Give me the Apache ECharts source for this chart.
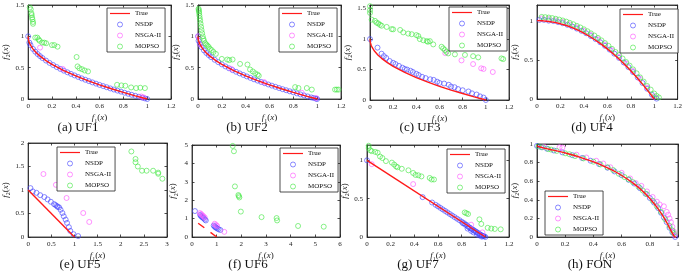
<!DOCTYPE html>
<html>
<head>
<meta charset="utf-8">
<script src="https://cdn.jsdelivr.net/npm/echarts@6/dist/echarts.min.js"></script>
<style>
  html, body { margin: 0; padding: 0; background: #fff; }
  #chart { width: 685px; height: 276px; }
</style>
</head>
<body>
<div id="chart"></div>
<script>
// Pareto fronts, [f1, f2]
var frontSqrt = [[0, 1], [0.002, 0.955], [0.005, 0.929], [0.01, 0.9], [0.02, 0.859], [0.04, 0.8], [0.07, 0.735], [0.1, 0.684], [0.15, 0.613], [0.2, 0.553], [0.3, 0.452], [0.4, 0.368], [0.5, 0.293], [0.6, 0.225], [0.7, 0.163], [0.8, 0.106], [0.9, 0.051], [1, 0]];

// UF1
var uf1Nsdp = [[0, 1], [0.01, 0.9], [0.02, 0.86], [0.04, 0.8], [0.06, 0.755], [0.08, 0.717], [0.1, 0.684], [0.12, 0.654], [0.15, 0.613], [0.18, 0.576], [0.21, 0.542], [0.24, 0.51], [0.27, 0.48], [0.3, 0.452], [0.33, 0.426], [0.36, 0.4], [0.39, 0.376], [0.42, 0.352], [0.45, 0.329], [0.48, 0.307], [0.51, 0.286], [0.54, 0.265], [0.57, 0.245], [0.6, 0.225], [0.63, 0.206], [0.66, 0.188], [0.69, 0.169], [0.72, 0.151], [0.75, 0.134], [0.78, 0.117], [0.81, 0.1], [0.84, 0.083], [0.87, 0.067], [0.9, 0.051], [0.93, 0.036], [0.96, 0.02], [0.98, 0.01], [1, 0]];
var uf1Nsga = [[0.1, 0.82], [0.29, 0.48], [0.95, 0.04], [0.97, 0.025]];
var uf1Mopso = [[0.014, 1.46], [0.022, 1.43], [0.027, 1.37], [0.03, 1.34], [0.033, 1.3], [0.036, 1.27], [0.041, 1.23], [0.041, 1.2], [0.06, 0.98], [0.077, 0.98], [0.088, 0.95], [0.096, 0.93], [0.118, 0.9], [0.135, 0.9], [0.151, 0.89], [0.2, 0.86], [0.22, 0.86], [0.247, 0.835], [0.407, 0.67], [0.415, 0.52], [0.431, 0.49], [0.453, 0.475], [0.475, 0.455], [0.503, 0.44], [0.747, 0.227], [0.783, 0.217], [0.816, 0.211], [0.865, 0.185], [0.907, 0.174], [0.942, 0.18], [0.981, 0.174]];

// UF2
var uf2Nsdp = [[0, 1], [0.005, 0.929], [0.015, 0.878], [0.03, 0.827], [0.05, 0.776], [0.07, 0.735], [0.09, 0.7], [0.11, 0.668], [0.14, 0.626], [0.17, 0.588], [0.2, 0.553], [0.23, 0.52], [0.26, 0.49], [0.29, 0.461], [0.32, 0.434], [0.35, 0.408], [0.38, 0.384], [0.41, 0.36], [0.44, 0.337], [0.47, 0.314], [0.5, 0.293], [0.53, 0.272], [0.56, 0.252], [0.59, 0.232], [0.62, 0.213], [0.65, 0.194], [0.68, 0.175], [0.71, 0.157], [0.74, 0.14], [0.77, 0.123], [0.8, 0.106], [0.83, 0.089], [0.86, 0.073], [0.89, 0.057], [0.92, 0.041], [0.95, 0.025], [0.97, 0.015], [0.99, 0.005], [1, 0]];
var uf2Nsga = [[0.003, 1.0], [0.02, 0.87], [0.28, 0.48], [0.555, 0.27], [0.87, 0.1], [0.99, 0.015]];
var uf2Mopso = [[0.005, 1.44], [0.006, 1.42], [0.008, 1.4], [0.01, 1.37], [0.012, 1.33], [0.015, 1.29], [0.018, 1.25], [0.022, 1.2], [0.026, 1.15], [0.03, 1.1], [0.035, 1.05], [0.04, 1.0], [0.045, 0.96], [0.05, 0.93], [0.06, 0.89], [0.07, 0.87], [0.08, 0.85], [0.09, 0.83], [0.1, 0.8], [0.115, 0.78], [0.13, 0.75], [0.15, 0.72], [0.2, 0.64], [0.246, 0.63], [0.263, 0.62], [0.29, 0.63], [0.353, 0.56], [0.415, 0.55], [0.437, 0.47], [0.46, 0.44], [0.48, 0.41], [0.5, 0.39], [0.51, 0.37], [0.815, 0.19], [0.843, 0.175], [0.913, 0.175], [0.955, 0.15], [1.15, 0.15], [1.165, 0.15], [1.18, 0.15]];

// UF3
var uf3Nsdp = [[0, 1.0], [0.065, 0.86], [0.1, 0.76], [0.12, 0.72], [0.14, 0.69], [0.17, 0.64], [0.2, 0.61], [0.22, 0.59], [0.25, 0.56], [0.28, 0.53], [0.3, 0.51], [0.32, 0.5], [0.35, 0.48], [0.37, 0.46], [0.4, 0.43], [0.42, 0.41], [0.45, 0.38], [0.48, 0.36], [0.52, 0.34], [0.55, 0.33], [0.58, 0.3], [0.6, 0.28], [0.64, 0.27], [0.68, 0.25], [0.7, 0.22], [0.73, 0.21], [0.76, 0.18], [0.8, 0.16], [0.85, 0.14], [0.88, 0.11], [0.92, 0.09], [0.95, 0.06], [0.98, 0.04], [1.0, 0.0]];
var uf3Nsga = [[0.65, 0.77], [0.79, 0.65], [0.89, 0.59], [0.96, 0.52], [0.98, 0.51], [1.06, 0.46]];
var uf3Mopso = [[0, 1.54], [0, 1.475], [0, 1.43], [0.014, 1.32], [0.043, 1.3], [0.057, 1.27], [0.072, 1.257], [0.086, 1.235], [0.1, 1.22], [0.144, 1.2], [0.187, 1.164], [0.2, 1.16], [0.26, 1.15], [0.287, 1.11], [0.33, 1.09], [0.36, 1.08], [0.4, 1.066], [0.417, 1.05], [0.43, 1.0], [0.46, 0.98], [0.49, 0.967], [0.5, 0.956], [0.517, 0.967], [0.546, 0.913], [0.618, 0.874], [0.632, 0.847], [0.647, 0.82], [0.66, 0.79], [0.675, 0.765], [0.733, 0.749], [0.82, 0.74], [0.89, 0.72], [0.934, 0.7], [1.135, 0.683], [1.15, 0.672]];

// UF4
var uf4True = [[0, 1], [0.05, 0.998], [0.1, 0.99], [0.15, 0.978], [0.2, 0.96], [0.25, 0.938], [0.3, 0.91], [0.35, 0.878], [0.4, 0.84], [0.45, 0.798], [0.5, 0.75], [0.55, 0.698], [0.6, 0.64], [0.65, 0.578], [0.7, 0.51], [0.75, 0.438], [0.8, 0.36], [0.85, 0.278], [0.9, 0.19], [0.95, 0.098], [1, 0]];
var uf4Nsdp = [[0.02, 1.01], [0.06, 1.01], [0.1, 1.0], [0.14, 0.995], [0.18, 0.982], [0.22, 0.967], [0.26, 0.947], [0.3, 0.925], [0.34, 0.899], [0.38, 0.87], [0.42, 0.839], [0.46, 0.803], [0.5, 0.765], [0.54, 0.724], [0.58, 0.679], [0.62, 0.631], [0.66, 0.579], [0.7, 0.525], [0.74, 0.467], [0.78, 0.407], [0.82, 0.343], [0.86, 0.275], [0.9, 0.205], [0.94, 0.131], [0.98, 0.055], [1.02, 0.005]];
var uf4Nsga = [[0.04, 1.028], [0.1, 1.02], [0.16, 1.004], [0.22, 0.982], [0.28, 0.952], [0.34, 0.914], [0.4, 0.87], [0.46, 0.818], [0.52, 0.76], [0.58, 0.694], [0.64, 0.62], [0.7, 0.54], [0.76, 0.452], [0.82, 0.358], [0.88, 0.256], [0.94, 0.146], [1.0, 0.03]];
var uf4Mopso = [[0.04, 1.048], [0.07, 1.045], [0.1, 1.04], [0.13, 1.033], [0.16, 1.024], [0.19, 1.014], [0.22, 1.002], [0.25, 0.988], [0.28, 0.972], [0.31, 0.954], [0.34, 0.934], [0.37, 0.913], [0.4, 0.89], [0.43, 0.865], [0.46, 0.838], [0.49, 0.81], [0.52, 0.78], [0.55, 0.748], [0.58, 0.714], [0.61, 0.678], [0.64, 0.64], [0.67, 0.6], [0.7, 0.56], [0.73, 0.517], [0.76, 0.472], [0.79, 0.426], [0.82, 0.378], [0.85, 0.328], [0.88, 0.276], [0.91, 0.222], [0.94, 0.166], [0.97, 0.12], [1.0, 0.07], [1.02, 0.04], [1.04, 0.02]];

// UF5
var uf5True = [[0, 1], [1, 0]];
var uf5Nsdp = [[0.05, 1.04], [0.1, 0.97], [0.18, 0.94], [0.26, 0.89], [0.35, 0.85], [0.42, 0.8], [0.49, 0.75], [0.56, 0.7], [0.59, 0.68], [0.62, 0.66], [0.64, 0.64], [0.67, 0.63], [0.7, 0.58], [0.74, 0.51], [0.77, 0.44], [0.81, 0.37], [0.84, 0.3], [0.88, 0.21], [0.91, 0.13], [0.98, 0.06], [1.08, 0.02]];
var uf5Nsga = [[0.33, 1.34], [0.6, 1.11], [0.83, 0.83], [1.19, 0.51], [1.32, 0.32]];
var uf5Mopso = [[2.23, 1.82], [2.32, 1.66], [2.32, 1.59], [2.37, 1.5], [2.46, 1.41], [2.56, 1.41], [2.7, 1.41], [2.81, 1.37], [2.81, 1.345], [2.9, 1.24]];

// UF6 (disconnected front)
var uf6True = [[0.25, 0.75], [0.5, 0.5], [0.625, null], [0.75, 0.25], [1, 0]];
var uf6Nsdp = [[0.12, 1.41], [0.33, 1.2], [0.36, 1.14], [0.4, 1.1], [0.43, 1.06], [0.47, 1.02], [0.52, 0.95], [0.56, 0.9], [0.88, 0.62], [0.92, 0.57], [0.95, 0.53], [0.98, 0.5], [1.03, 0.46], [1.08, 0.42], [1.15, 0.38]];
var uf6Nsga = [[0.32, 1.3], [0.37, 1.25], [0.42, 1.18], [0.47, 1.12], [0.52, 1.05], [0.92, 0.72], [0.97, 0.65], [1.02, 0.6], [1.31, 0.28]];
var uf6Mopso = [[1.65, 4.95], [1.7, 4.66], [1.74, 2.75], [1.88, 2.28], [1.9, 2.22], [1.92, 2.15], [1.98, 1.38], [2.82, 1.08], [3.43, 1.03], [3.45, 0.9], [4.3, 0.6], [5.34, 0.56]];

// UF7
var uf7True = [[0, 1], [1, 0]];
var uf7Nsdp = [[0, 1], [0.47, 0.52], [0.55, 0.45], [0.58, 0.42], [0.6, 0.4], [0.62, 0.38], [0.64, 0.36], [0.66, 0.34], [0.68, 0.32], [0.7, 0.3], [0.72, 0.28], [0.74, 0.26], [0.76, 0.24], [0.78, 0.22], [0.8, 0.2], [0.81, 0.18], [0.82, 0.18], [0.83, 0.16], [0.84, 0.16], [0.85, 0.14], [0.86, 0.13], [0.87, 0.12], [0.88, 0.11], [0.89, 0.1], [0.9, 0.09], [0.91, 0.08], [0.92, 0.07], [0.93, 0.06], [0.94, 0.05], [0.95, 0.04], [0.96, 0.03], [0.97, 0.02], [0.98, 0.01], [0.99, 0.01], [1, 0], [0.9, 0.06], [0.93, 0.03], [0.95, 0.02], [0.97, 0.005], [0.88, 0.08], [0.85, 0.11]];
var uf7Nsga = [[0.04, 0.95], [0.39, 0.69], [0.88, 0.16], [0.975, 0.06]];
var uf7Mopso = [[0.014, 1.19], [0.014, 1.16], [0.028, 1.13], [0.04, 1.12], [0.07, 1.11], [0.09, 1.1], [0.11, 1.05], [0.13, 1.03], [0.16, 0.99], [0.21, 0.97], [0.23, 0.945], [0.246, 0.92], [0.258, 0.91], [0.294, 0.89], [0.35, 0.87], [0.39, 0.835], [0.41, 0.81], [0.434, 0.805], [0.46, 0.79], [0.53, 0.77], [0.546, 0.75], [0.566, 0.75], [0.826, 0.32], [0.84, 0.31], [0.854, 0.3], [0.95, 0.23], [0.966, 0.17], [1.02, 0.12], [1.05, 0.11], [1.08, 0.105], [1.13, 0.1]];

// FON
var fonTrue = [[0, 0.982], [0.01, 0.973], [0.039, 0.961], [0.086, 0.944], [0.148, 0.923], [0.221, 0.895], [0.302, 0.859], [0.387, 0.815], [0.473, 0.763], [0.555, 0.702], [0.632, 0.632], [0.702, 0.555], [0.763, 0.473], [0.815, 0.387], [0.859, 0.302], [0.895, 0.221], [0.923, 0.148], [0.944, 0.086], [0.961, 0.039], [0.973, 0.01], [0.982, 0]];
var fonNsdp = [[0, 0.98], [0.03, 0.965], [0.07, 0.95], [0.12, 0.93], [0.18, 0.91], [0.25, 0.88], [0.32, 0.85], [0.38, 0.82], [0.44, 0.785], [0.5, 0.745], [0.55, 0.705], [0.6, 0.665], [0.65, 0.615], [0.69, 0.575], [0.73, 0.525], [0.77, 0.465], [0.8, 0.42], [0.83, 0.37], [0.86, 0.31], [0.88, 0.26], [0.9, 0.21], [0.92, 0.16], [0.94, 0.1], [0.96, 0.05], [0.98, 0.0]];
var fonNsga = [[0.05, 0.97], [0.16, 0.965], [0.18, 0.96], [0.28, 0.885], [0.35, 0.855], [0.42, 0.82], [0.47, 0.79], [0.52, 0.75], [0.6, 0.69], [0.66, 0.63], [0.7, 0.58], [0.74, 0.55], [0.78, 0.49], [0.82, 0.43], [0.85, 0.38], [0.87, 0.35], [0.9, 0.33], [0.92, 0.27], [0.93, 0.24], [0.94, 0.2], [0.95, 0.16], [0.96, 0.11], [0.97, 0.06], [0.975, 0.02]];
var fonMopso = [[0.01, 0.975], [0.04, 0.965], [0.08, 0.945], [0.1, 0.94], [0.14, 0.925], [0.2, 0.9], [0.23, 0.89], [0.27, 0.87], [0.33, 0.845], [0.4, 0.81], [0.45, 0.78], [0.5, 0.75], [0.54, 0.72], [0.58, 0.68], [0.62, 0.645], [0.65, 0.62], [0.68, 0.59], [0.72, 0.54], [0.75, 0.5], [0.78, 0.46], [0.82, 0.39], [0.85, 0.33], [0.88, 0.27], [0.91, 0.19], [0.94, 0.12], [0.96, 0.07], [0.97, 0.04]];

var seriesNames = ["True", "NSDP", "NSGA-II", "MOPSO"];

// panel layout: grid [left, top, width, height], axis [min, max, interval]
var panels = [
  { caption: "(a) UF1", grid: [25, 5, 146, 94], x: [0, 1.2, 0.2], y: [0, 1.5, 0.5], legend: [107, 8], cap: [78, 128], data: [frontSqrt, uf1Nsdp, uf1Nsga, uf1Mopso] },
  { caption: "(b) UF2", grid: [198, 5, 143, 94], x: [0, 1.2, 0.2], y: [0, 1.5, 0.5], legend: [279, 8], cap: [247, 128], data: [frontSqrt, uf2Nsdp, uf2Nsga, uf2Mopso] },
  { caption: "(c) UF3", grid: [370, 5, 139, 95], x: [0, 1.2, 0.2], y: [0, 1.56, 0.5], legend: [449, 7], cap: [420, 128], data: [frontSqrt, uf3Nsdp, uf3Nsga, uf3Mopso] },
  { caption: "(d) UF4", grid: [537, 5, 143, 94], x: [0, 1.2, 0.2], y: [0, 1.2, 0.5], legend: [620, 9], cap: [592, 128], data: [uf4True, uf4Nsdp, uf4Nsga, uf4Mopso] },
  { caption: "(e) UF5", grid: [25, 143, 142, 94], x: [0, 3, 0.5], y: [0, 2, 0.5], legend: [57, 147], cap: [80, 265], data: [uf5True, uf5Nsdp, uf5Nsga, uf5Mopso] },
  { caption: "(f) UF6", grid: [192, 145, 148, 92], x: [0, 6, 1], y: [0, 5, 1], legend: [280, 148], cap: [248, 265], data: [uf6True, uf6Nsdp, uf6Nsga, uf6Mopso] },
  { caption: "(g) UF7", grid: [367, 145, 142, 92], x: [0, 1.2, 0.2], y: [0, 1.2, 0.5], legend: [447, 149], cap: [418, 265], data: [uf7True, uf7Nsdp, uf7Nsga, uf7Mopso] },
  { caption: "(h) FON", grid: [537, 144, 141, 93], x: [0, 1, 0.2], y: [0, 1, 0.2], legend: [545, 191], cap: [590, 265], data: [fonTrue, fonNsdp, fonNsga, fonMopso], smooth: true }
];

var colors = ["#ff1a1a", "#4646ff", "#ff55ff", "#44e844"];
var serif = "Liberation Serif";

var nameRich = {
  i: { fontFamily: serif, fontStyle: "italic", fontSize: 9, lineHeight: 12, color: "#222" },
  n: { fontFamily: serif, fontSize: 9, lineHeight: 12, color: "#222" },
  s: { fontFamily: serif, fontSize: 6, lineHeight: 6, verticalAlign: "bottom", color: "#222" }
};

function isMultiple(v, step) {
  var r = Math.abs(v / step - Math.round(v / step));
  return r < 1e-6;
}

function makeAxis(range, idx, isX, mirror) {
  var axis = {
    type: "value",
    gridIndex: idx,
    min: range[0],
    max: range[1],
    interval: range[2],
    axisLine: { show: true, onZero: false, lineStyle: { color: "#222", width: 0.8 } },
    axisTick: { show: true, inside: true, length: 2.5, lineStyle: { color: "#222", width: 0.8 } },
    splitLine: { show: false }
  };
  if (mirror) {
    // ticks on the top and right edges of the box
    axis.position = isX ? "top" : "right";
    axis.axisLabel = { show: false };
    return axis;
  }
  axis.name = isX ? "{i|f}{s|1}{n|(}{i|x}{n|)}" : "{i|f}{s|2}{n|(}{i|x}{n|)}";
  axis.nameLocation = "middle";
  axis.nameGap = isX ? 13 : 13;
  axis.nameTextStyle = { rich: nameRich };
  axis.axisLabel = { fontFamily: serif, fontSize: 7, color: "#222", margin: 4, showMaxLabel: isMultiple(range[1], range[2]) };
  return axis;
}

var grids = [], xAxes = [], yAxes = [], series = [], legends = [], texts = [];

panels.forEach(function (p, i) {
  grids.push({
    left: p.grid[0], top: p.grid[1], width: p.grid[2], height: p.grid[3],
    show: true, borderColor: "#222", borderWidth: 0.8, backgroundColor: "#fff"
  });
  xAxes.push(makeAxis(p.x, i, true, false));
  yAxes.push(makeAxis(p.y, i, false, false));

  // true front as a line, algorithms as hollow circles
  series.push({
    name: seriesNames[0], type: "line", xAxisIndex: i, yAxisIndex: i,
    data: p.data[0], symbol: "none", smooth: !!p.smooth, connectNulls: false,
    lineStyle: { color: colors[0], width: 1.4 }, itemStyle: { color: colors[0] }
  });
  for (var k = 1; k < 4; k++) {
    series.push({
      name: seriesNames[k], type: "scatter", xAxisIndex: i, yAxisIndex: i,
      data: p.data[k], symbol: "circle", symbolSize: 5,
      itemStyle: { color: "rgba(0,0,0,0)", borderColor: colors[k], borderWidth: 0.8 }
    });
  }

  legends.push({
    left: p.legend[0], top: p.legend[1],
    orient: "vertical",
    data: [
      { name: "True", icon: "path://M0,0 L40,0 L40,2.4 L0,2.4 Z", symbolKeepAspect: true, itemStyle: { color: colors[0], borderWidth: 0 } },
      { name: "NSDP", icon: "circle", itemStyle: { color: "rgba(0,0,0,0)", borderColor: colors[1], borderWidth: 0.8 } },
      { name: "NSGA-II", icon: "circle", itemStyle: { color: "rgba(0,0,0,0)", borderColor: colors[2], borderWidth: 0.8 } },
      { name: "MOPSO", icon: "circle", itemStyle: { color: "rgba(0,0,0,0)", borderColor: colors[3], borderWidth: 0.8 } }
    ],
    itemWidth: 20, itemHeight: 5, itemGap: 4,
    padding: [2, 4, 2, 3],
    borderColor: "#222", borderWidth: 0.8, backgroundColor: "#fff",
    textStyle: { fontFamily: serif, fontSize: 7, color: "#111" },
    selectedMode: false
  });

  texts.push({
    type: "text", x: p.cap[0], y: p.cap[1],
    style: { text: p.caption, fontFamily: serif, fontSize: 13, fill: "#111", textAlign: "center", textVerticalAlign: "middle" }
  });
});

// mirrored axes for the box ticks
panels.forEach(function (p, i) {
  xAxes.push(makeAxis(p.x, i, true, true));
  yAxes.push(makeAxis(p.y, i, false, true));
});

var chartDom = document.getElementById("chart");
var myChart = echarts.init(chartDom, null, { renderer: "canvas" });

var option = {
  animation: false,
  backgroundColor: "#fff",
  grid: grids,
  xAxis: xAxes,
  yAxis: yAxes,
  legend: legends,
  series: series,
  graphic: texts
};

myChart.setOption(option);
</script>
</body>
</html>
